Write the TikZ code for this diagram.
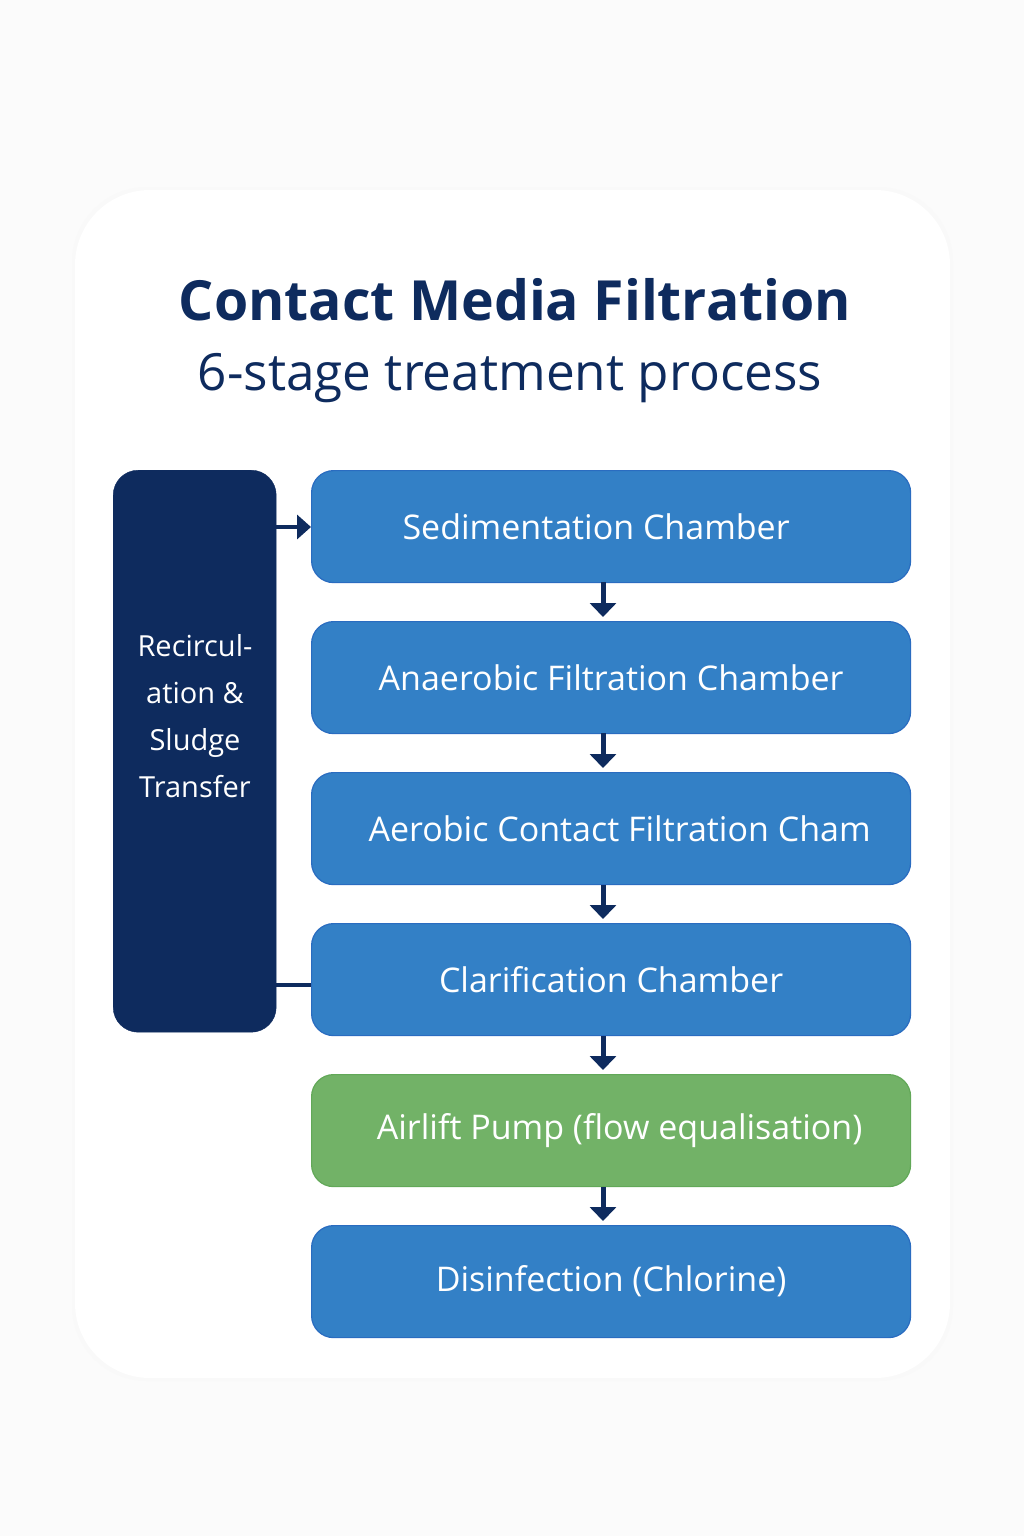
\documentclass[tikz,border=0pt]{standalone}
\usepackage{fontspec}
\setmainfont{Open Sans}
\usetikzlibrary{arrows.meta}
\definecolor{navy}{HTML}{0E2B5E}
\definecolor{bblue}{HTML}{3380C6}
\definecolor{bedge}{HTML}{2A6CC0}
\definecolor{bgreen}{HTML}{72B267}
\definecolor{gedge}{HTML}{62A858}
\begin{document}
\begin{tikzpicture}[x=1pt,y=-1pt,
  stage/.style={draw=bedge,line width=1.2pt,fill=bblue,rounded corners=22pt,minimum width=599pt,minimum height=112pt,text=white,font=\fontsize{34}{40}\selectfont,anchor=north west,inner sep=0pt},
  arr/.style={draw=navy,line width=5pt,-{Triangle[length=14pt,width=26pt]}}]
\useasboundingbox (0,0) rectangle (1024,1536);
\fill[white!97!gray] (0,0) rectangle (1024,1536);
\fill[white!95!gray] (72,187) [rounded corners=75pt] rectangle (953,1381);
\fill[white] (75,190) [rounded corners=75pt] rectangle (950,1378);
\node (title) at (515,300) {\resizebox{672pt}{!}{\color{navy}\bfseries Contact Media Filtration}};
\node (sub) at (510,378) {\resizebox{624pt}{!}{\color{navy}6-stage treatment process}};
\node (rec) [draw=navy,fill=navy,rounded corners=25pt,minimum width=163pt,minimum height=562pt,anchor=north west,inner sep=0pt,text=white,align=center,font=\fontsize{29}{47}\selectfont,text depth=0pt] at (113,470) {};
\node (rect) at (195,716) [text=white,align=center,font=\fontsize{29}{47}\selectfont] {Recircul-\\ation \&\\Sludge\\Transfer};
\node (s1) [stage] at (311,470) {\hspace*{-30pt}Sedimentation Chamber};
\node (s2) [stage] at (311,621) {Anaerobic Filtration Chamber};
\node (s3) [stage] at (311,772) {\hspace*{17pt}Aerobic Contact Filtration Cham};
\node (s4) [stage] at (311,923) {Clarification Chamber};
\node (s5) [stage,fill=bgreen,draw=gedge] at (311,1074) {\hspace*{17pt}Airlift Pump (flow equalisation)};
\node (s6) [stage] at (311,1225) {Disinfection (Chlorine)};
\draw[arr] (603,582) -- (603,617);
\draw[arr] (603,733) -- (603,768);
\draw[arr] (603,885) -- (603,919);
\draw[arr] (603,1036) -- (603,1070);
\draw[arr] (603,1187) -- (603,1221);
\coordinate (a1) at (276,527);
\draw[draw=navy,line width=4pt,-{Triangle[length=14pt,width=24pt]}] (a1) -- (s1.west |- a1);
\coordinate (a2) at (276,985);
\draw[draw=navy,line width=4pt] (a2) -- (s4.west |- a2);
\end{tikzpicture}
\end{document}
